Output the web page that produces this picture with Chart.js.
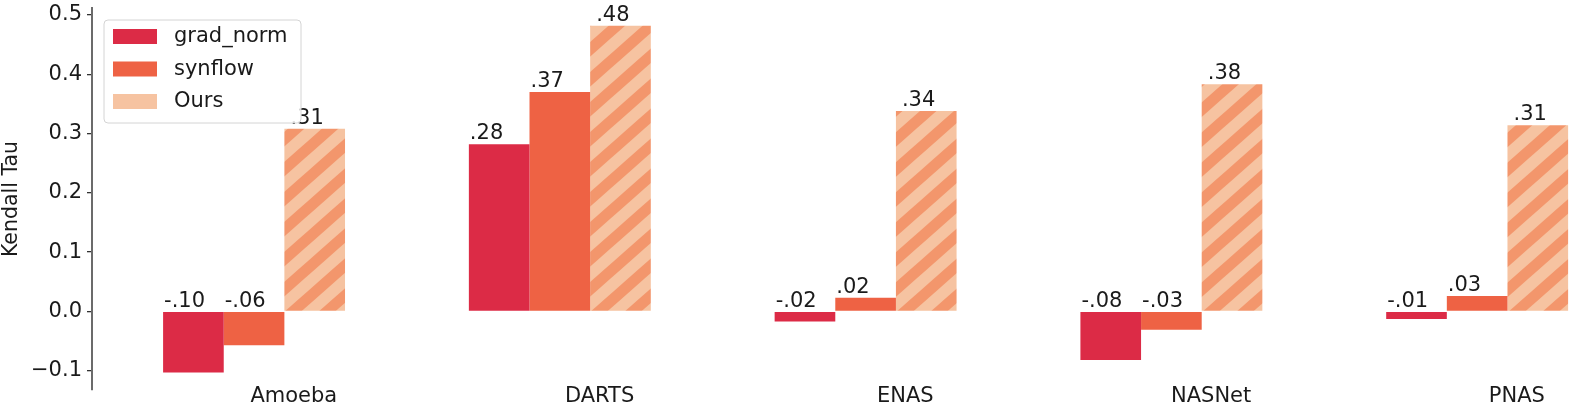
<!DOCTYPE html>
<html>
<head>
<meta charset="utf-8">
<script src="https://cdn.jsdelivr.net/npm/chart.js@4.4.1/dist/chart.umd.min.js"></script>
<style>
  html, body { margin: 0; padding: 0; background: #fff; }
  canvas { display: block; }
</style>
</head>
<body>
<canvas id="myChart" width="1575" height="402"></canvas>
<script>
// values
const categories = ['Amoeba', 'DARTS', 'ENAS', 'NASNet', 'PNAS'];
const gradNorm = [-0.103, 0.282, -0.017, -0.082, -0.013];
const synflow = [-0.057, 0.370, 0.023, -0.031, 0.026];
const ours = [0.308, 0.482, 0.338, 0.383, 0.314];
const gradNormText = ['-.10', '.28', '-.02', '-.08', '-.01'];
const synflowText = ['-.06', '.37', '.02', '-.03', '.03'];
const oursText = ['.31', '.48', '.34', '.38', '.31'];
const yTicks = [-0.1, 0.0, 0.1, 0.2, 0.3, 0.4, 0.5];

const colors = ['#dc2b46', '#ee6244', '#f6c3a1'];
const stripeColor = '#f3966c';
const FONT = 'DejaVu Sans';
const textColor = '#1a1a1a';

// diagonal hatch for "Ours"
function makeHatch() {
    const w = 34, h = 30;
    const c = document.createElement('canvas');
    c.width = w; c.height = h;
    const g = c.getContext('2d');
    g.fillStyle = colors[2];
    g.fillRect(0, 0, w, h);
    g.strokeStyle = stripeColor;
    g.lineWidth = 11;
    for (let k = -1; k <= 2; k++) {
        g.beginPath();
        g.moveTo(k * w + w, -h);
        g.lineTo(k * w - 2 * w, 2 * h);
        g.stroke();
    }
    return g.createPattern(c, 'repeat');
}

const labelTexts = [gradNormText, synflowText, oursText];
const labelShift = [1, 1, 6];

const barLabels = {
    id: 'barLabels',
    afterDatasetsDraw(chart) {
        const ctx = chart.ctx;
        ctx.save();
        ctx.font = '21px "' + FONT + '"';
        ctx.fillStyle = textColor;
        ctx.textAlign = 'left';
        ctx.textBaseline = 'alphabetic';
        chart.data.datasets.forEach((ds, d) => {
            chart.getDatasetMeta(d).data.forEach((bar, i) => {
                const top = Math.min(bar.y, bar.base);
                ctx.fillText(labelTexts[d][i], bar.x - bar.width / 2 + labelShift[d], top - 5);
            });
        });
        ctx.restore();
    }
};

const boxLegend = {
    id: 'boxLegend',
    afterDraw(chart) {
        const ctx = chart.ctx;
        const a = chart.chartArea;
        const x = a.left + 12, y = a.top + 12, w = 197, h = 103, r = 4;
        ctx.save();
        ctx.beginPath();
        ctx.roundRect(x, y, w, h, r);
        ctx.fillStyle = 'rgba(255,255,255,0.8)';
        ctx.fill();
        ctx.strokeStyle = '#d4d4d4';
        ctx.lineWidth = 1;
        ctx.stroke();
        ctx.font = '21px "' + FONT + '"';
        ctx.textBaseline = 'middle';
        ctx.textAlign = 'left';
        chart.data.datasets.forEach((ds, d) => {
            const sy = y + 9 + d * 32.5;
            ctx.fillStyle = colors[d];
            ctx.fillRect(x + 9, sy, 44, 15);
            ctx.fillStyle = textColor;
            ctx.fillText(ds.label, x + 70, sy + 8);
        });
        ctx.restore();
    }
};

function getChart() {
    const ctx = document.getElementById('myChart');
    const hatch = makeHatch();
    const toPoints = arr => arr.map((v, i) => ({ x: i, y: v }));

    new Chart(ctx, {
        type: 'bar',
        data: {
            datasets: [
                { label: 'grad_norm', data: toPoints(gradNorm), backgroundColor: colors[0] },
                { label: 'synflow', data: toPoints(synflow), backgroundColor: colors[1] },
                { label: 'Ours', data: toPoints(ours), backgroundColor: hatch }
            ]
        },
        options: {
            responsive: false,
            animation: false,
            layout: { padding: { top: 8, left: 0, right: 0, bottom: 0 } },
            datasets: {
                bar: { categoryPercentage: 0.595, barPercentage: 1.0, borderWidth: 0 }
            },
            scales: {
                x: {
                    type: 'linear',
                    offset: false,
                    min: -0.53,
                    max: 4.32,
                    grid: { display: false, drawTicks: false, offset: false },
                    border: { display: false },
                    afterBuildTicks: s => { s.ticks = categories.map((c, i) => ({ value: i + 0.13 })); },
                    afterFit: s => { s.height = 12; s.paddingLeft = 0; s.paddingRight = 0; },
                    ticks: {
                        autoSkip: false,
                        maxRotation: 0,
                        mirror: true,
                        padding: -19.5,
                        color: textColor,
                        font: { family: FONT, size: 21 },
                        callback: v => categories[Math.round(v)]
                    }
                },
                y: {
                    min: -0.1326,
                    max: 0.5118,
                    grid: { display: true, drawOnChartArea: false, drawTicks: true, tickLength: 5, color: '#333', lineWidth: 1.3 },
                    border: { display: true, color: '#6b6b6b', width: 2 },
                    afterBuildTicks: s => { s.ticks = yTicks.map(v => ({ value: v })); },
                    afterFit: s => { s.width = 92; s.paddingTop = 0; s.paddingBottom = 0; },
                    title: {
                        display: true,
                        text: 'Kendall Tau',
                        color: textColor,
                        padding: { top: 1, bottom: 0 },
                        font: { family: FONT, size: 20.5, lineHeight: 1 }
                    },
                    ticks: {
                        padding: 5,
                        color: textColor,
                        font: { family: FONT, size: 21 },
                        callback: v => v < 0 ? '\u2212' + Math.abs(v).toFixed(1) : v.toFixed(1)
                    }
                }
            },
            plugins: {
                legend: { display: false },
                tooltip: { enabled: false }
            }
        },
        plugins: [barLabels, boxLegend]
    });
}

getChart();
</script>
</body>
</html>
